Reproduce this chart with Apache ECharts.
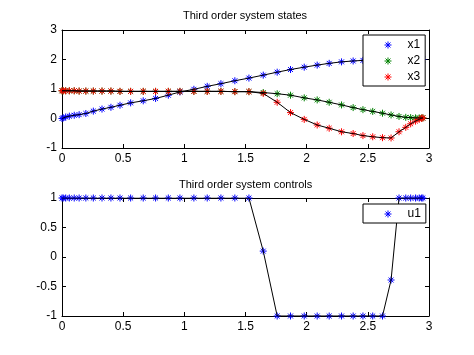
<!DOCTYPE html>
<html><head><meta charset="utf-8">
<script src="https://cdn.jsdelivr.net/npm/echarts@6/dist/echarts.min.js"></script>
<style>html,body{margin:0;padding:0;background:#fff}#c{width:474px;height:355px}</style>
</head><body><div id="c"></div>
<script>
const t = [0,0.01,0.03,0.06,0.10,0.14,0.195,0.256,0.327,0.40,0.474,0.561,0.664,0.765,0.869,0.964,1.078,1.187,1.299,1.413,1.528,1.645,1.759,1.868,1.98,2.086,2.184,2.285,2.38,2.46,2.54,2.62,2.69,2.755,2.81,2.85,2.89,2.92,2.94,2.95];
const x1 = [0,0.02,0.05,0.08,0.11,0.13,0.17,0.25,0.32,0.38,0.45,0.53,0.60,0.68,0.79,0.90,0.99,1.09,1.18,1.28,1.37,1.47,1.57,1.66,1.74,1.81,1.87,1.92,1.95,1.97,1.99,2.00,2.00,2.00,2.00,2.00,2.00,2.00,2.00,2.00];
const x2 = [0.94,0.94,0.94,0.94,0.94,0.93,0.93,0.93,0.93,0.93,0.92,0.92,0.92,0.92,0.92,0.92,0.92,0.92,0.92,0.91,0.91,0.88,0.84,0.79,0.70,0.63,0.55,0.46,0.37,0.30,0.24,0.18,0.12,0.07,0.04,0.03,0.02,0.02,0.02,0.02];
const x3 = [0.94,0.94,0.94,0.94,0.94,0.93,0.93,0.93,0.93,0.93,0.92,0.92,0.92,0.92,0.92,0.92,0.92,0.92,0.92,0.91,0.91,0.85,0.55,0.20,-0.03,-0.22,-0.33,-0.45,-0.51,-0.58,-0.62,-0.65,-0.66,-0.45,-0.30,-0.18,-0.09,-0.03,0.01,0.02];
const u1 = [1,1,1,1,1,1,1,1,1,1,1,1,1,1,1,1,1,1,1,1,1,0.1,-1,-1,-1,-1,-1,-1,-1,-1,-1,-1,-0.39,1,1,1,1,1,1,1];
const stateNames = ['x1','x2','x3'];
const controlNames = ['u1'];
const titles = ['Third order system states','Third order system controls'];

const pair = (xs, ys) => xs.map((v, i) => [v, ys[i]]);
const star = 'path://M0 3L6 3M3 0L3 6M0.9 0.9L5.1 5.1M5.1 0.9L0.9 5.1';
const FONT = '"Liberation Sans", Arial, sans-serif';
const colors = {x1:'#0000ff', x2:'#008000', x3:'#ff0000', u1:'#0000ff'};

function xAx(g, pos) {
  return {gridIndex:g, type:'value', min:0, max:3, interval:0.5, position:pos,
    axisLine:{show:true, onZero:false, lineStyle:{color:'#000', width:1}},
    axisTick:{show:true, inside:true, length:4, lineStyle:{color:'#000', width:1}},
    axisLabel:{show:pos==='bottom', color:'#000', fontSize:12, fontFamily:FONT, margin:5},
    splitLine:{show:false}};
}
function yAx(g, pos, mn, mx, iv) {
  return {gridIndex:g, type:'value', min:mn, max:mx, interval:iv, position:pos,
    axisLine:{show:true, onZero:false, lineStyle:{color:'#000', width:1}},
    axisTick:{show:true, inside:true, length:4, lineStyle:{color:'#000', width:1}},
    axisLabel:{show:pos==='left', color:'#000', fontSize:12, fontFamily:FONT, margin:5},
    splitLine:{show:false}};
}
function markers(name, ys, xi, yi) {
  return {type:'scatter', name:name, xAxisIndex:xi, yAxisIndex:yi, data:pair(t, ys),
    symbol:star, symbolSize:7, z:2,
    itemStyle:{color:colors[name], borderColor:colors[name], borderWidth:1, opacity:1},
    emphasis:{disabled:true}};
}
function curve(ys, xi, yi) {
  return {type:'line', xAxisIndex:xi, yAxisIndex:yi, data:pair(t, ys), symbol:'none',
    showSymbol:false, z:3, silent:true, lineStyle:{color:'#000', width:1}};
}
const legendCommon = {orient:'vertical', left:363, backgroundColor:'#fff', borderColor:'#000',
  borderWidth:1, padding:[3,5,2,21], itemGap:2, itemWidth:7, itemHeight:7, icon:star,
  itemStyle:{borderWidth:1},
  textStyle:{color:'#000', fontSize:12, lineHeight:14, fontFamily:FONT, padding:[0,0,0,11]}, selectedMode:false};

const chart = echarts.init(document.getElementById('c'), null, {renderer:'canvas'});
chart.setOption({
  animation:false,
  backgroundColor:'#fff',
  title:[
    {text:titles[0], left:183, top:10, padding:0, textStyle:{fontSize:11, fontWeight:'normal', color:'#000', fontFamily:FONT}},
    {text:titles[1], left:179, top:179, padding:0, textStyle:{fontSize:11, fontWeight:'normal', color:'#000', fontFamily:FONT}}
  ],
  grid:[
    {left:62, top:30, width:367, height:118},
    {left:62, top:198, width:367, height:118}
  ],
  xAxis:[xAx(0,'bottom'), xAx(0,'top'), xAx(1,'bottom'), xAx(1,'top')],
  yAxis:[yAx(0,'left',-1,3,1), yAx(0,'right',-1,3,1), yAx(1,'left',-1,1,0.5), yAx(1,'right',-1,1,0.5)],
  legend:[
    Object.assign({}, legendCommon, {top:35, data:stateNames}),
    Object.assign({}, legendCommon, {top:204, data:controlNames})
  ],
  series:[
    markers('x1', x1, 0, 0), markers('x2', x2, 0, 0), markers('x3', x3, 0, 0),
    curve(x1, 0, 0), curve(x2, 0, 0), curve(x3, 0, 0),
    markers('u1', u1, 2, 2), curve(u1, 2, 2)
  ]
});
</script></body></html>
